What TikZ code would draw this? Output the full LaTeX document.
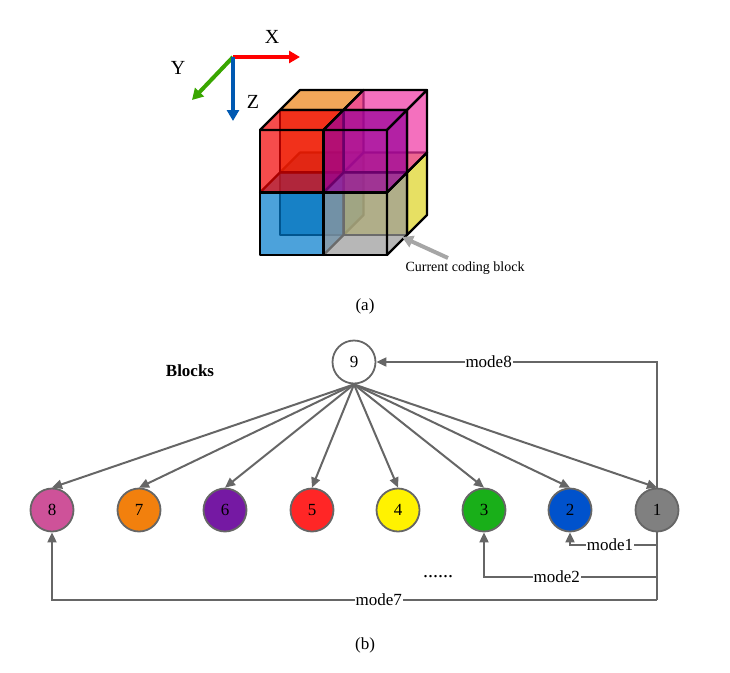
\documentclass[tikz,border=0pt]{standalone}
\usepackage{fontspec}
\setmainfont{Liberation Serif}
\usepackage{tikz}
\usetikzlibrary{arrows.meta}
\tikzset{
  blk/.style={circle,draw=black!60,line width=1.8pt,minimum size=43pt,inner sep=0pt,font=\fontsize{17}{20}\selectfont},
  lnk/.style={draw=black!60,line width=2pt,-{Triangle[length=10pt,width=9pt]}},
  mlab/.style={fill=white,inner sep=1pt,font=\fontsize{17}{20}\selectfont},
  face/.style={draw=black,line width=2.2pt,line join=round,fill opacity=0.7}
}
\newcommand{\subcube}[4]{%
\begin{scope}[shift={(260+63.5*#1+20*#3,255-62.5*#2-20*#3)}]
\filldraw[face,fill=#4] (0,0) -- (63.5,0) -- (63.5,-62.5) -- (0,-62.5) -- cycle;
\filldraw[face,fill=#4] (0,-62.5) -- (63.5,-62.5) -- (83.5,-82.5) -- (20,-82.5) -- cycle;
\filldraw[face,fill=#4] (63.5,0) -- (83.5,-20) -- (83.5,-82.5) -- (63.5,-62.5) -- cycle;
\end{scope}}
\begin{document}
\begin{tikzpicture}[x=1pt,y=-1pt]
\useasboundingbox (0,0) rectangle (730,672);
% axes
\coordinate (o) at (233,57);
\draw[red,line width=4pt,-{Triangle[length=11pt,width=12pt]}] (o) -- (300,57);
\draw[green!50!black!70!lime,line width=4pt,-{Triangle[length=11pt,width=12pt]}] (o) -- (192,100);
\draw[blue!50!cyan!70!black,line width=4pt,-{Triangle[length=11pt,width=12pt]}] (o) -- (233,121);
\node[font=\fontsize{20}{24}\selectfont] (ax) at (272,37) {X};
\node[font=\fontsize{20}{24}\selectfont] (ay) at (178,68) {Y};
\node[font=\fontsize{20}{24}\selectfont] (az) at (253,102) {Z};
% cube, back layer first
\subcube{0}{0}{1}{teal!80!blue}
\subcube{1}{0}{1}{yellow!85!black}
\subcube{0}{1}{1}{orange!70!brown}
\subcube{1}{1}{1}{magenta!80!white}
\subcube{0}{0}{0}{blue!40!cyan!80!black}
\subcube{1}{0}{0}{gray!80}
\subcube{0}{1}{0}{red!95!black}
\subcube{1}{1}{0}{violet!80!magenta}
\node[font=\fontsize{14}{16}\selectfont] (cur) at (465,268) {Current coding block};
\draw[gray!70,line width=4pt,-{Triangle[length=11pt,width=12pt]}] (448,258) -- (402,237);
\node[font=\fontsize{17}{20}\selectfont] (capa) at (365,306) {(a)};
% graph
\node[blk,fill=white] (n9) at (354,362) {9};
\node[font=\bfseries\fontsize{17}{20}\selectfont] (title) at (190,371) {Blocks};
\node[blk,fill=magenta!55!violet!80] (n8) at (52,510) {8};
\node[blk,fill=orange!80!brown] (n7) at (139,510) {7};
\node[blk,fill=violet!80!blue!90] (n6) at (225,510) {6};
\node[blk,fill=red!85!white] (n5) at (312,510) {5};
\node[blk,fill=yellow] (n4) at (398,510) {4};
\node[blk,fill=green!65!black!90] (n3) at (484,510) {3};
\node[blk,fill=blue!60!cyan!80!black] (n2) at (570,510) {2};
\node[blk,fill=gray] (n1) at (657,510) {1};
\foreach \i in {1,...,8}
  \draw[lnk] (n9.south) -- (n\i.north);
\draw[lnk] (n1.north) |- node[mlab,pos=0.8] {mode8} (n9.east);
\coordinate (c1) at (657,545);
\coordinate (c2) at (657,577);
\coordinate (c7) at (657,600);
\draw[draw=black!60,line width=2pt] (n1.south) -- (c7);
\draw[lnk] (c1) -| node[mlab,pos=0.27] {mode1} (n2.south);
\draw[lnk] (c2) -| node[mlab,pos=0.29] {mode2} (n3.south);
\draw[lnk] (c7) -| node[mlab,pos=0.23] {mode7} (n8.south);
\node[font=\fontsize{20}{24}\selectfont] (dots) at (438,577) {......};
\node[font=\fontsize{17}{20}\selectfont] (capb) at (365,645) {(b)};
\end{tikzpicture}
\end{document}
